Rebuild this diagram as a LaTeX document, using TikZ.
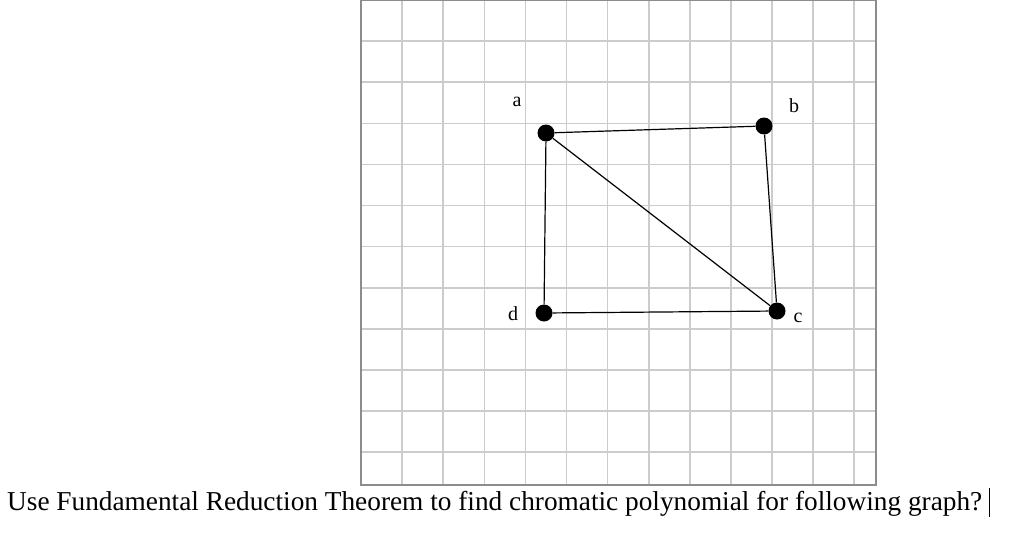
\documentclass[tikz,border=0pt]{standalone}
\usepackage{fontspec}
\setmainfont{Liberation Serif}
\usepackage{tikz}
\usetikzlibrary{positioning}
\definecolor{colorgrid}  {RGB}{204,204,204}
\definecolor{colorframe} {RGB}{140,140,140}
\definecolor{colortext}  {RGB}{0,0,0}

\begin{document}
\begin{tikzpicture}[
    x=1pt, y=-1pt,
    vertex/.style={circle,fill=colortext,inner sep=0pt,minimum size=17pt},
    lbl/.style={text=colortext,font={\fontsize{20}{20}\selectfont},inner sep=0pt},
    edge/.style={draw=colortext,line width=1.2pt},
    gridline/.style={draw=colorgrid,line width=1.6pt},
]
    \useasboundingbox (0,0) rectangle (1024,546);

    \draw[gridline,shift={(361,0)},step=41.1pt] (0,0) grid (515,485);
    \draw[draw=colorframe,line width=2pt] (361,0) rectangle (876,485);

    \node[vertex] at (546,133) (a) {};
    \node[vertex] at (764,126) (b) {};
    \node[vertex] at (777,311) (c) {};
    \node[vertex] at (544,313) (d) {};

    \node[lbl] at (517,102) (la) {a};
    \node[lbl] at (794,106) (lb) {b};
    \node[lbl] at (798,318) (lc) {c};
    \node[lbl] at (513,314) (ld) {d};

    \draw[edge](a) to (b);
    \draw[edge](b) to (c);
    \draw[edge](a) to (c);
    \draw[edge](a) to (d);
    \draw[edge](d) to (c);

    \node[text=colortext,font={\fontsize{27.3}{30}\selectfont},anchor=base west,inner sep=0pt] at (7,510) (question) {Use Fundamental Reduction Theorem to find chromatic polynomial for following graph?};
    \coordinate[right=7pt of question.base east] (cursor);
    \draw[colortext,line width=1pt] ([yshift=22pt]cursor) -- ([yshift=-7pt]cursor);

\end{tikzpicture}
\end{document}
